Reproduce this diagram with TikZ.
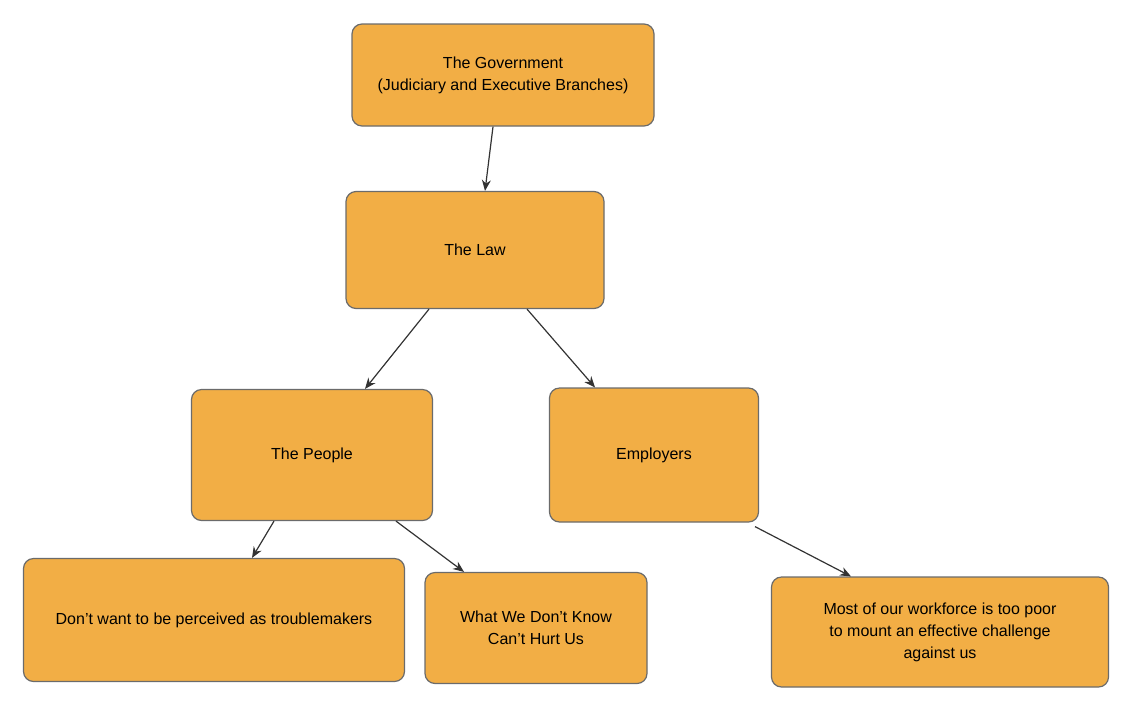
\documentclass[tikz,border=0pt]{standalone}
\usepackage{fontspec}
\setmainfont{Liberation Sans}
\usetikzlibrary{arrows.meta}
\definecolor{boxfill}{HTML}{F2AE45}
\definecolor{boxline}{HTML}{6B6B6B}
\definecolor{arr}{HTML}{333333}
\begin{document}
\begin{tikzpicture}[x=1pt,y=-1pt,
 box/.style={draw=boxline,line width=1.2pt,fill=boxfill,rounded corners=10pt,align=center,inner sep=0pt,font=\fontsize{16}{22}\selectfont},
 con/.style={draw=arr,line width=1.2pt,-{Stealth[length=11pt,width=9pt]}}]
\useasboundingbox (0,0) rectangle (1134,713);
\node[box,minimum width=302pt,minimum height=102pt] (gov) at (503,75) {The Government\\(Judiciary and Executive Branches)};
\node[box,minimum width=258pt,minimum height=117pt] (law) at (475,250) {The Law};
\node[box,minimum width=241pt,minimum height=131pt] (ppl) at (312,455) {The People};
\node[box,minimum width=209pt,minimum height=134pt] (emp) at (654,455) {Employers};
\node[box,minimum width=381pt,minimum height=123pt] (dont) at (214,620) {Don't want to be perceived as troublemakers};
\node[box,minimum width=222pt,minimum height=111pt] (what) at (536,628) {What We Don't Know\\Can't Hurt Us};
\node[box,minimum width=337pt,minimum height=110pt] (most) at (940,632) {Most of our workforce is too poor\\to mount an effective challenge\\against us};
\draw[con] ([xshift=-10pt]gov.south) -- ([xshift=10pt]law.north);
\draw[con] ([xshift=-46pt]law.south) -- ([xshift=53pt]ppl.north);
\draw[con] ([xshift=52pt]law.south) -- ([xshift=-59pt]emp.north);
\draw[con] ([xshift=-38pt]ppl.south) -- ([xshift=38pt]dont.north);
\draw[con] ([xshift=84pt]ppl.south) -- ([xshift=-72pt]what.north);
\draw[con] ([xshift=101pt,yshift=-4pt]emp.south) -- ([xshift=-89pt]most.north);
\end{tikzpicture}
\end{document}
